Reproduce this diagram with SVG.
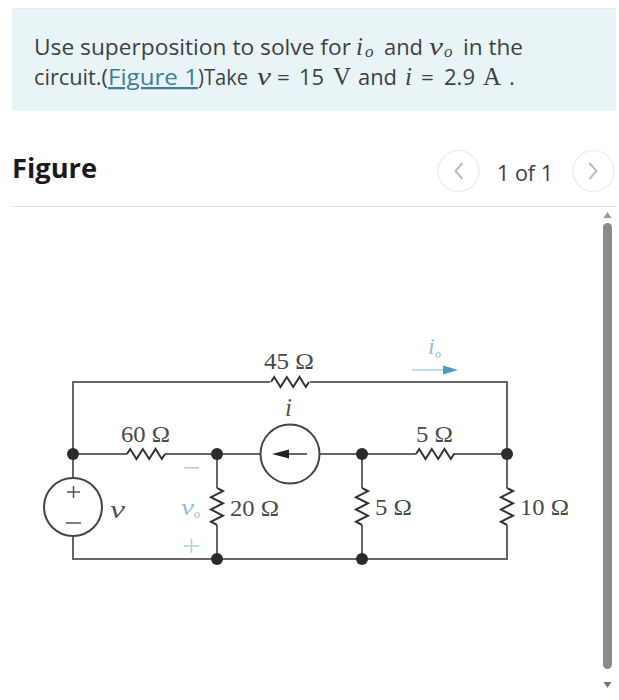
<svg xmlns="http://www.w3.org/2000/svg" width="619" height="700" viewBox="0 0 619 700">
<style>
.ui{font-family:"Open Sans","Noto Sans",sans-serif;font-size:22.500px;fill:#3d4144}
.m{font-family:"Liberation Serif",serif;font-style:italic;font-size:25px;fill:#3d4144}
.s{font-family:"Liberation Serif",serif;font-style:italic;font-size:17px;fill:#3d4144}
.u{font-family:"Liberation Serif",serif;font-size:25px;fill:#3d4144}
.c{font-family:"Liberation Serif",serif;font-size:24px;fill:#4a4a4a}
.ci{font-family:"Liberation Serif",serif;font-style:italic;font-size:25px;fill:#55514c}
.b{font-family:"Liberation Serif",serif;fill:#8cc3d6}
.w{fill:none;stroke:#666;stroke-width:2}
.z{fill:none;stroke:#333;stroke-width:2}
.d{fill:#2b2b2b}
.sy{stroke:#555;stroke-width:1.500;fill:none}
.nav{fill:#fff;stroke:#eeeeee;stroke-width:1.500}
.chev{fill:none;stroke:#bdbdbd;stroke-width:2}
</style>
<defs>
<path id="zig" d="M0 0L3.200 -5L9.500 5L15.800 -5L22.200 5L28.500 -5L34.800 5L38 0"/>
</defs>
<rect width="619" height="700" fill="#fff"/>
<g id="question">
<line x1="12" y1="8.500" x2="616" y2="8.500" stroke="#e6e8e8"/>
<rect x="12" y="9" width="604" height="102" fill="#e9f4f7"/>
<text class="ui" x="34" y="55" textLength="317" lengthAdjust="spacingAndGlyphs">Use superposition to solve for</text>
<text class="m" x="356" y="55">i</text><text class="s" x="365" y="57">o</text>
<text class="ui" x="384" y="55" textLength="39" lengthAdjust="spacingAndGlyphs">and</text>
<text class="m" x="429" y="55" textLength="14" lengthAdjust="spacingAndGlyphs">v</text><text class="s" x="444" y="57">o</text>
<text class="ui" x="463" y="55" textLength="60" lengthAdjust="spacingAndGlyphs">in the</text>
<text class="ui" x="34" y="85" textLength="74" lengthAdjust="spacingAndGlyphs">circuit.(</text>
<text class="ui" x="108" y="85" textLength="90" lengthAdjust="spacingAndGlyphs" style="fill:#3f7c9e;text-decoration:underline">Figure 1</text>
<text class="ui" x="198" y="85" textLength="50" lengthAdjust="spacingAndGlyphs">)Take</text>
<text class="m" x="257" y="85" textLength="14" lengthAdjust="spacingAndGlyphs">v</text>
<text class="ui" x="277" y="85">=</text>
<text class="ui" x="299" y="85" textLength="25" lengthAdjust="spacingAndGlyphs">15</text>
<text class="u" x="333" y="85">V</text>
<text class="ui" x="358" y="85" textLength="39" lengthAdjust="spacingAndGlyphs">and</text>
<text class="m" x="405" y="85">i</text>
<text class="ui" x="421" y="85">=</text>
<text class="ui" x="444" y="85" textLength="31" lengthAdjust="spacingAndGlyphs">2.9</text>
<text class="u" x="483" y="85">A</text>
<text class="ui" x="509" y="85">.</text>
</g>
<g id="header">
<text x="12" y="178" font-family="Open Sans,Noto Sans,sans-serif" font-weight="700" font-size="26" fill="#1a1a1a" textLength="85" lengthAdjust="spacingAndGlyphs">Figure</text>
<circle class="nav" cx="458.500" cy="171" r="20.500"/>
<path class="chev" d="M462.500 163L455.500 171L462.500 179"/>
<text class="ui" x="497" y="181" textLength="56" lengthAdjust="spacingAndGlyphs">1 of 1</text>
<circle class="nav" cx="593.500" cy="171" r="20.500"/>
<path class="chev" d="M589.500 163L596.500 171L589.500 179"/>
<line x1="12" y1="206.500" x2="616" y2="206.500" stroke="#e3e3e3"/>
</g>
<g id="scrollbar">
<path d="M603.500 218L607.500 212L611.500 218Z" fill="#9a9a9a"/>
<rect x="603" y="223" width="9" height="446" rx="4.500" fill="#8a8a8a"/>
<path d="M603.500 682L607.500 688L611.500 682Z" fill="#7a7a7a"/>
</g>
<g id="connectors">
<path class="w" d="M73 478V382H270M310 382H507V488M507 525V559H73V536"/>
<path class="w" d="M73 454H127M165 454H261M319 454H416M453 454H507"/>
<path class="w" d="M217 454V488M217 525V559M362 454V488M362 525V559"/>
</g>
<g id="r45"><use href="#zig" class="z" x="271" y="382"/><text class="c" x="264" y="369" textLength="50" lengthAdjust="spacingAndGlyphs">45 Ω</text></g>
<g id="r60"><use href="#zig" class="z" x="127" y="454"/><text class="c" x="121" y="442" textLength="49" lengthAdjust="spacingAndGlyphs">60 Ω</text></g>
<g id="r5top"><use href="#zig" class="z" x="416" y="454"/><text class="c" x="416" y="442" textLength="37" lengthAdjust="spacingAndGlyphs">5 Ω</text></g>
<g id="r20"><use href="#zig" class="z" transform="translate(217 488) rotate(90) scale(0.97 1.200)"/><text class="c" x="230" y="516" textLength="49" lengthAdjust="spacingAndGlyphs">20 Ω</text></g>
<g id="r5low"><use href="#zig" class="z" transform="translate(362 488) rotate(90) scale(0.97 1.200)"/><text class="c" x="375" y="515" textLength="37" lengthAdjust="spacingAndGlyphs">5 Ω</text></g>
<g id="r10"><use href="#zig" class="z" transform="translate(507 488) rotate(90) scale(0.97 1.200)"/><text class="c" x="520" y="515" textLength="49" lengthAdjust="spacingAndGlyphs">10 Ω</text></g>
<g id="source-v">
<circle cx="73" cy="507" r="29" fill="#fff" stroke="#444" stroke-width="2"/>
<path class="sy" d="M67 492H80M73.500 486V498M66 523H81"/>
<text class="ci" x="110" y="518" textLength="15" lengthAdjust="spacingAndGlyphs">v</text>
</g>
<g id="source-i">
<circle cx="290" cy="454" r="29.500" fill="#fff" stroke="#444" stroke-width="2"/>
<path d="M288 454H307" stroke="#333" stroke-width="1.500"/>
<path d="M272 454L289 449.500V458.500Z" fill="#222"/>
<text class="ci" x="285" y="416">i</text>
</g>
<g id="label-vo">
<rect x="184" y="467" width="15" height="1.500" fill="#a9cfdc"/>
<text class="b" x="181" y="515" font-size="24" font-style="italic" textLength="13" lengthAdjust="spacingAndGlyphs">v</text>
<text class="b" x="194" y="518" font-size="12" font-style="italic">o</text>
<path d="M184 546H199M191.500 539V553" stroke="#a9cfdc" stroke-width="1.500"/>
</g>
<g id="label-io">
<text class="b" x="428" y="354" font-size="24" font-style="italic" style="fill:#8cbfd8">i</text>
<text class="b" x="435" y="358" font-size="12" font-style="italic" style="fill:#8cbfd8">o</text>
<line x1="412" y1="370" x2="445" y2="370" stroke="#a7d3ea" stroke-width="1.500"/>
<path d="M443 365.500L458 370L443 374.500Z" fill="#4d9ac9"/>
</g>
<g id="nodes">
<circle class="d" cx="73" cy="454" r="6"/>
<circle class="d" cx="217" cy="454" r="6"/>
<circle class="d" cx="362" cy="454" r="6"/>
<circle class="d" cx="507" cy="454" r="6"/>
<circle class="d" cx="217" cy="559" r="6"/>
<circle class="d" cx="362" cy="559" r="6"/>
</g>
</svg>
